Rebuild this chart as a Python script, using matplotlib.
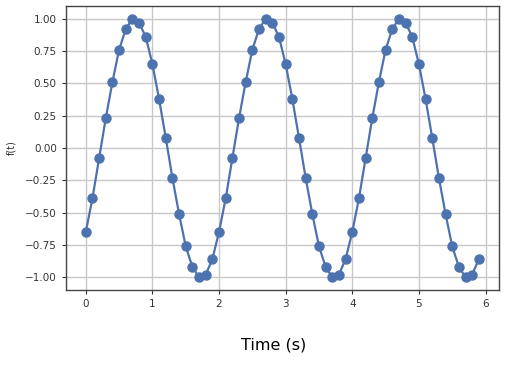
import matplotlib
matplotlib.use("Agg")
import matplotlib.pyplot as plt

t = [round(0.1 * i, 1) for i in range(60)]
cycle = [-0.65, -0.39, -0.08, 0.23, 0.51, 0.76, 0.92, 1.00, 0.97, 0.86,
         0.65, 0.38, 0.08, -0.23, -0.51, -0.76, -0.92, -1.00, -0.98, -0.86]
f_vals = cycle + cycle + cycle
yticks = [-1.00, -0.75, -0.50, -0.25, 0.00, 0.25, 0.50, 0.75, 1.00]
xticks = [0, 1, 2, 3, 4, 5, 6]

fig = plt.figure(figsize=(5.18, 3.90), dpi=100)
ax = fig.add_axes([0.127, 0.256, 0.836, 0.729])
ax.plot(t, f_vals, color="#4C72B0", marker="o", markersize=6.5, linewidth=1.6)
ax.set_xlim(-0.3, 6.2)
ax.set_ylim(-1.1, 1.1)
ax.set_xticks(xticks)
ax.set_yticks(yticks)
ax.set_yticklabels([f"{v:.2f}".replace("-", "\u2212") for v in yticks])
ax.grid(True, color="#c8c8c8", linewidth=1.0)
ax.set_axisbelow(True)
for s in ax.spines.values():
    s.set_color("#444444")
    s.set_linewidth(1.0)
ax.tick_params(labelsize=7.5, colors="#333333", length=3)
ax.set_ylabel("f(t)", fontsize=7, color="#333333", labelpad=6)
fig.text(0.529, 0.115, "Time (s)", ha="center", va="center", fontsize=11.5, color="black")
fig.savefig("out.png", dpi=100)
